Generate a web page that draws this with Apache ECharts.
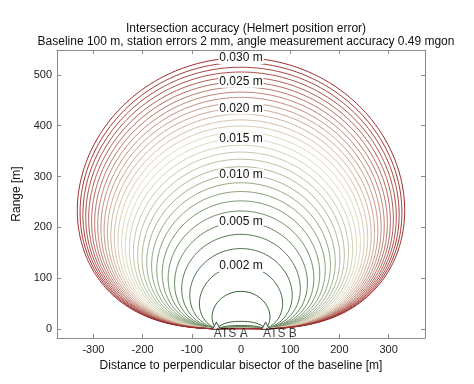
<!DOCTYPE html>
<html><head><meta charset="utf-8">
<script src="https://cdn.jsdelivr.net/npm/echarts@6/dist/echarts.min.js"></script>
<style>html,body{margin:0;padding:0;background:#fff}#c{width:474px;height:384px}</style>
</head><body><div id="c"></div>
<script>
// ---- chart data ----
const titleLines = ['Intersection accuracy (Helmert position error)', 'Baseline 100 m, station errors 2 mm, angle measurement accuracy 0.49 mgon'];
const xAxisName = 'Distance to perpendicular bisector of the baseline [m]';
const yAxisName = 'Range [m]';
const stationNames = ['ATS A', 'ATS B'];
const stationX = [-50, 50];
const contourLevels = [0.001,0.002,0.003,0.004,0.005,0.006,0.007,0.008,0.009,0.010,0.011,0.012,0.013,0.014,0.015,0.016,0.017,0.018,0.019,0.020,0.021,0.022,0.023,0.024,0.025,0.026,0.027,0.028,0.029,0.030];
const labelledLevels = [0.002, 0.005, 0.010, 0.015, 0.020, 0.025, 0.030];
const xTicks = [-300, -200, -100, 0, 100, 200, 300];
const yTicks = [0, 100, 200, 300, 400, 500];
const angleAccuracyMgon = 0.49;
const angleCalibration = 0.956; // matches contour heights read at the labels

// ---- error field (Helmert position error of a forward intersection) ----
const sigRad = angleAccuracyMgon * 1e-3 * Math.PI / 200 * angleCalibration;
const xa = stationX[0], xb = stationX[1], base = xb - xa;
function sigma(x, y) {
  const dA2 = (x - xa) * (x - xa) + y * y, dB2 = (x - xb) * (x - xb) + y * y;
  return sigRad * Math.sqrt(dA2 + dB2) * Math.sqrt(dA2 * dB2) / (base * y);
}
const xs = []; for (let x = -378; x <= 378; x += 1) xs.push(x);
const ys = [];
for (let k = 0; k < 100; k++) ys.push(0.003 * Math.pow(1000, k / 99));
for (let y = 3.6; y <= 562; y += 0.7) ys.push(y);
const nx = xs.length, ny = ys.length;
const F = new Float64Array(nx * ny);
for (let j = 0; j < ny; j++) for (let i = 0; i < nx; i++) F[j * nx + i] = sigma(xs[i], ys[j]);

function traceLevel(c) {
  const s0 = [], s1 = [], pts = new Map();
  function edge(type, i, j) {
    const id = (j * nx + i) * 2 + type;
    if (!pts.has(id)) {
      let x, y;
      if (type === 0) { const a = F[j*nx+i], b = F[j*nx+i+1], t = (c-a)/(b-a); x = xs[i] + t*(xs[i+1]-xs[i]); y = ys[j]; }
      else { const a = F[j*nx+i], b = F[(j+1)*nx+i], t = (c-a)/(b-a); x = xs[i]; y = ys[j] + t*(ys[j+1]-ys[j]); }
      pts.set(id, [x, y]);
    }
    return id;
  }
  function add(p, q) { s0.push(p); s1.push(q); }
  for (let j = 0; j < ny - 1; j++) {
    for (let i = 0; i < nx - 1; i++) {
      const a = F[j*nx+i], b = F[j*nx+i+1], d = F[(j+1)*nx+i+1], e = F[(j+1)*nx+i];
      const qa = a > c, qb = b > c, qd = d > c, qe = e > c;
      const idx = (qa?1:0) | (qb?2:0) | (qd?4:0) | (qe?8:0);
      if (idx === 0 || idx === 15) continue;
      const eB = qa !== qb ? edge(0, i, j) : -1;
      const eR = qb !== qd ? edge(1, i+1, j) : -1;
      const eT = qe !== qd ? edge(0, i, j+1) : -1;
      const eL = qa !== qe ? edge(1, i, j) : -1;
      if (idx === 5 || idx === 10) {
        const center = (a + b + d + e) / 4;
        if ((idx === 5) === (center > c)) { add(eB, eR); add(eT, eL); }
        else { add(eL, eB); add(eR, eT); }
      } else {
        const l = [eB, eR, eT, eL].filter(v => v >= 0);
        add(l[0], l[1]);
      }
    }
  }
  const adj = new Map();
  function addAdj(e, k) { let l = adj.get(e); if (!l) { l = []; adj.set(e, l); } l.push(k); }
  for (let k = 0; k < s0.length; k++) { addAdj(s0[k], k); addAdj(s1[k], k); }
  const used = new Uint8Array(s0.length);
  function follow(e) {
    const out = []; let cur = e;
    for (;;) {
      const l = adj.get(cur); let nk = -1;
      for (const k of l) if (!used[k]) { nk = k; break; }
      if (nk < 0) break;
      used[nk] = 1;
      cur = s0[nk] === cur ? s1[nk] : s0[nk];
      out.push(cur);
    }
    return out;
  }
  const polys = [];
  for (let k = 0; k < s0.length; k++) {
    if (used[k]) continue;
    used[k] = 1;
    const f = follow(s1[k]), b = follow(s0[k]);
    const ids = b.reverse().concat([s0[k], s1[k]], f);
    polys.push(ids.map(id => pts.get(id)));
  }
  return polys;
}

const stops = [[50, 98, 50], [226, 222, 196], [155, 40, 40]];
function colorFor(c) {
  const t = (c - contourLevels[0]) / (contourLevels[contourLevels.length - 1] - contourLevels[0]);
  const u = t < 0.5 ? t * 2 : (t - 0.5) * 2;
  const p = t < 0.5 ? stops[0] : stops[1], q = t < 0.5 ? stops[1] : stops[2];
  return 'rgb(' + p.map((v, i) => Math.round(v + (q[i] - v) * u)).join(',') + ')';
}
function topOf(c) {
  let lo = base / 2 / Math.SQRT2, hi = 2000;
  for (let k = 0; k < 80; k++) { const m = (lo + hi) / 2; if (sigma(0, m) < c) lo = m; else hi = m; }
  return (lo + hi) / 2;
}

const series = [];
contourLevels.forEach(c => {
  const col = colorFor(c);
  traceLevel(c).forEach(poly => {
    series.push({ type: 'line', data: poly, showSymbol: false, symbol: 'none', silent: true,
      lineStyle: { color: col, width: 1 }, z: 2, animation: false, clip: true });
  });
});
series.push({
  type: 'scatter', z: 10, zlevel: 1, silent: true, animation: false, symbol: 'circle', symbolSize: 1,
  itemStyle: { color: '#ffffff', opacity: 1 },
  data: labelledLevels.map(c => [0, topOf(c), c]),
  label: { show: true, position: 'inside', formatter: p => p.value[2].toFixed(3) + ' m',
    fontFamily: 'Liberation Sans', fontSize: 12, color: '#111111', backgroundColor: '#ffffff',
    padding: [1, 1, 0, 1], lineHeight: 11, opacity: 1 },
  emphasis: { disabled: true }
});
series.push({
  type: 'scatter', z: 11, zlevel: 1, silent: true, animation: false, symbol: 'triangle', symbolSize: [8, 7],
  symbolOffset: [0, -3],
  itemStyle: { color: '#fff', borderColor: '#333', borderWidth: 1 },
  data: stationX.map((x, i) => ({ value: [x, 0], name: stationNames[i] })),
  label: { show: true, position: [2, 6], formatter: p => p.name, align: 'left', verticalAlign: 'top',
    fontFamily: 'Liberation Sans', fontSize: 12, lineHeight: 12, color: '#111111' },
  emphasis: { disabled: true }
});

const axisGrey = '#8a8a8a';
function mkX(pos, show) {
  return { type: 'value', min: -374, max: 374, position: pos,
    axisLine: { show: true, onZero: false, lineStyle: { color: axisGrey, width: 1 } },
    axisTick: { show: true, inside: true, length: 4, customValues: xTicks, lineStyle: { color: axisGrey } },
    axisLabel: { show: show, customValues: xTicks, fontFamily: 'Liberation Sans', fontSize: 11, color: '#222', margin: 6 },
    splitLine: { show: false },
    name: show ? xAxisName : '', nameLocation: 'middle', nameGap: 19,
    nameTextStyle: { fontFamily: 'Liberation Sans', fontSize: 12, color: '#111' } };
}
function mkY(pos, show) {
  return { type: 'value', min: -18, max: 549, position: pos,
    axisLine: { show: true, onZero: false, lineStyle: { color: axisGrey, width: 1 } },
    axisTick: { show: true, inside: true, length: 4, customValues: yTicks, lineStyle: { color: axisGrey } },
    axisLabel: { show: show, customValues: yTicks, fontFamily: 'Liberation Sans', fontSize: 11, color: '#222', margin: 5 },
    splitLine: { show: false },
    name: show ? yAxisName : '', nameLocation: 'middle', nameGap: 29,
    nameTextStyle: { fontFamily: 'Liberation Sans', fontSize: 12, color: '#111' } };
}

const chart = echarts.init(document.getElementById('c'), null, { renderer: 'canvas' });
chart.setOption({
  backgroundColor: '#fff',
  animation: false,
  title: { text: titleLines.join('\n'), left: 241, top: 17, textAlign: 'center',
    textStyle: { fontFamily: 'Liberation Sans', fontSize: 12, fontWeight: 'normal', color: '#111', lineHeight: 13 } },
  grid: { left: 57, right: 49, top: 50, bottom: 46, containLabel: false, outerBoundsMode: 'none' },
  xAxis: [mkX('bottom', true), mkX('top', false)],
  yAxis: [mkY('left', true), mkY('right', false)],
  series: series
});
</script></body></html>
